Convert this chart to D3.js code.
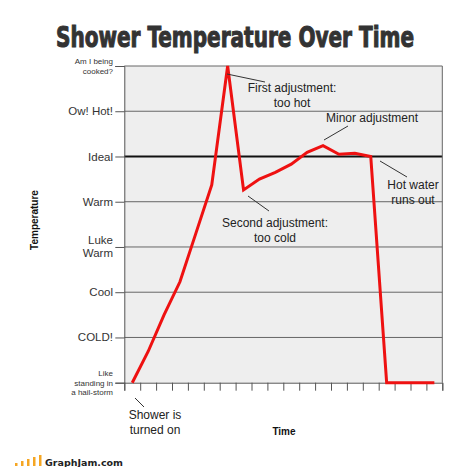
<!DOCTYPE html>
<html><head><meta charset="utf-8">
<script src="https://cdn.jsdelivr.net/npm/d3@7"></script>
<style>body{margin:0;background:#fff}svg{display:block}</style>
</head><body>
<script>
// ---- data ----
const levelLabels = [
  ["Like", "standing in", "a hail-storm"],
  ["COLD!"],
  ["Cool"],
  ["Luke", "Warm"],
  ["Warm"],
  ["Ideal"],
  ["Ow! Hot!"],
  ["Am I being", "cooked?"]
];
const times = [0.5,1.5,2.5,3.5,4.5,5.5,6.5,7.5,8.5,9.5,10.5,11.5,12.5,13.5,14.5,15.5,16.5,17.5,18.5,19.5];
const temps = [0,0.69,1.5,2.23,3.3,4.37,7,4.26,4.5,4.65,4.83,5.09,5.24,5.05,5.07,5.0,0,0,0,0];
const timeTicks = d3.range(0, 21);
const annotations = [
  {lines:["First adjustment:","too hot"], tx:292, ty:92, l:[227,74,265,82]},
  {lines:["Minor adjustment"], tx:372, ty:122, l:[324,140,348,126]},
  {lines:["Hot water","runs out"], tx:413, ty:189, l:[380,161,407,177]},
  {lines:["Second adjustment:","too cold"], tx:275, ty:227, l:[248,196,269,211]},
  {lines:["Shower is","turned on"], tx:155, ty:419, l:[135,398,144,407]}
];

const W = 474, H = 467;
const svg = d3.select("body").append("svg").attr("width", W).attr("height", H)
  .style("font-family", "Arial, 'Liberation Sans', sans-serif");

const x = d3.scaleLinear().domain([0, 20]).range([124.3, 442.3]);
const y = d3.scaleLinear().domain([0, 7]).range([382.7, 66]);

// title (font size fitted to the reference width, stretched vertically like a condensed display face)
const title = svg.append("text").attr("transform", "translate(235,47) scale(1,1.28)").attr("text-anchor", "middle")
  .style("font-family", "'Liberation Sans Narrow', 'DejaVu Sans Condensed', 'Liberation Sans', sans-serif")
  .style("font-weight", "bold").style("font-size", "31px").attr("fill", "#333")
  .attr("stroke", "#333").attr("stroke-width", 0.8)
  .text("Shower Temperature Over Time");
const tw = title.node().getComputedTextLength();
if (tw > 0) title.style("font-size", (31 * 358 / tw).toFixed(2) + "px");

// plot background
svg.append("rect").attr("x", x(0)).attr("y", y(7)).attr("width", x(20) - x(0)).attr("height", y(0) - y(7))
  .attr("fill", "#eeeeee");

// grid lines
svg.append("g").selectAll("line").data(d3.range(1, 8)).join("line")
  .attr("x1", x(0)).attr("x2", x(20)).attr("y1", d => y(d)).attr("y2", d => y(d))
  .attr("stroke", d => d === 5 ? "#111" : "#666").attr("stroke-width", d => d === 5 ? 2 : 1);

// right border
svg.append("line").attr("x1", x(20)).attr("x2", x(20)).attr("y1", y(7)).attr("y2", y(0))
  .attr("stroke", "#666").attr("stroke-width", 1);

// y axis
const yAxis = svg.append("g").attr("transform", `translate(${x(0)},0)`)
  .call(d3.axisLeft(y).tickValues(d3.range(0, 8)).tickSize(9).tickFormat(""));
yAxis.select(".domain").attr("stroke", "#555");
yAxis.selectAll(".tick line").attr("stroke", "#555");

// y labels
levelLabels.forEach((lines, i) => {
  const small = lines.length > 2 || i === 7;
  const fs = small ? 8 : 11.5;
  const lh = small ? 9.5 : 13;
  const t = svg.append("text").attr("text-anchor", "end").attr("fill", "#333")
    .style("font-size", fs + "px");
  const y0 = y(i) - (lines.length - 1) * lh / 2 + fs * 0.35;
  lines.forEach((s, k) => t.append("tspan").attr("x", 113).attr("y", y0 + k * lh).text(s));
});

// x axis
const xAxis = svg.append("g").attr("transform", `translate(0,${y(0)})`)
  .call(d3.axisBottom(x).tickValues(timeTicks).tickSize(8).tickFormat(""));
xAxis.select(".domain").attr("stroke", "#555");
xAxis.selectAll(".tick line").attr("stroke", "#555");

// line
const line = d3.line().x((d, i) => x(times[i])).y(d => y(d));
svg.append("path").datum(temps).attr("d", line).attr("fill", "none")
  .attr("stroke", "#ee1111").attr("stroke-width", 3).attr("stroke-linejoin", "miter");

// axis titles
svg.append("text").attr("transform", "translate(38,220) rotate(-90)").attr("text-anchor", "middle")
  .style("font-weight", "bold").style("font-size", "10px").attr("fill", "#111").text("Temperature");
svg.append("text").attr("x", 284).attr("y", 435).attr("text-anchor", "middle")
  .style("font-weight", "bold").style("font-size", "10px").attr("fill", "#111").text("Time");

// annotations
annotations.forEach(a => {
  svg.append("line").attr("x1", a.l[0]).attr("y1", a.l[1]).attr("x2", a.l[2]).attr("y2", a.l[3])
    .attr("stroke", "#333").attr("stroke-width", 1);
  const t = svg.append("text").attr("text-anchor", "middle").attr("fill", "#222").style("font-size", "12px");
  a.lines.forEach((s, k) => t.append("tspan").attr("x", a.tx).attr("y", a.ty + k * 14.5).text(s));
});

// footer logo
const bars = [[15,463],[21,461],[27,459],[33,457],[39,455]];
svg.append("g").selectAll("rect").data(bars).join("rect")
  .attr("x", d => d[0]).attr("y", d => d[1]).attr("width", 2.5).attr("height", d => 466 - d[1])
  .attr("fill", "#f5a623");
svg.append("text").attr("x", 45).attr("y", 466)
  .style("font-family", "Verdana, 'DejaVu Sans', sans-serif").style("font-weight", "bold")
  .style("font-size", "9.5px").attr("fill", "#222").text("GraphJam.com");
</script>
</body></html>
